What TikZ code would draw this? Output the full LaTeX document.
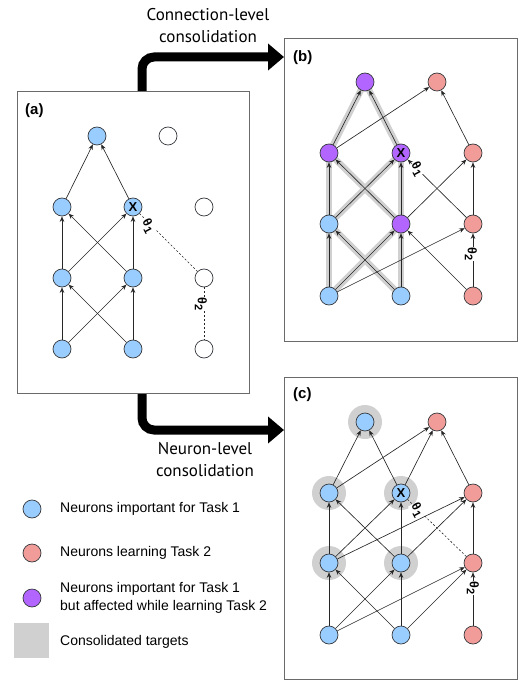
\documentclass[tikz,border=0pt]{standalone}
\usepackage{fontspec}
\setmainfont{Liberation Sans}
\newfontfamily\lblfont{PT Sans}
\usetikzlibrary{arrows.meta}
\pgfdeclarelayer{bg}
\pgfsetlayers{bg,main}
\definecolor{nblue}{HTML}{99CCFF}
\definecolor{nred}{HTML}{F19C99}
\definecolor{npurple}{HTML}{B266FF}
\definecolor{nstroke}{HTML}{36393D}
\definecolor{halo}{HTML}{D0D0D0}
\definecolor{panelline}{HTML}{6A6A6A}
\newcommand{\thsym}[1]{\bfseries θ\kern0.8pt\raisebox{-3pt}{\fontsize{11}{11}\selectfont #1}}
\tikzset{
 neuron/.style={circle, minimum size=18pt, inner sep=0pt, draw=nstroke, line width=0.7pt, font=\bfseries\fontsize{13}{13}\selectfont},
 bn/.style={neuron, fill=nblue},
 rn/.style={neuron, fill=nred},
 pn/.style={neuron, fill=npurple},
 openn/.style={neuron, fill=white},
 conn/.style={line width=0.65pt, draw=black!85, -{Stealth[length=5.5pt,width=4.5pt]}},
 dconn/.style={line width=0.6pt, draw=black!85, dash pattern=on 2pt off 2pt},
 hlline/.style={line width=6.5pt, draw=halo},
 haloc/.style={circle, fill=halo, minimum size=34pt, inner sep=0pt},
 panel/.style={draw=panelline, line width=1pt, anchor=north west, inner sep=0pt},
 bigarrow/.style={line width=9pt, rounded corners=12pt, -{Triangle[length=16pt,width=26pt]}},
 plabel/.style={font=\bfseries\fontsize{15}{18}\selectfont, anchor=west, inner sep=0pt},
 thlab/.style={font=\fontsize{12.5}{14}\selectfont, fill=white, inner sep=0.3pt},
 arrlab/.style={font=\lblfont\fontsize{17}{22}\selectfont, align=center, inner sep=0pt},
 lgtext/.style={font=\fontsize{14}{18}\selectfont, anchor=west, align=left, inner sep=0pt},
}
\begin{document}
\begin{tikzpicture}[x=1pt,y=-1pt]
\useasboundingbox (0,0) rectangle (530,692);
% panels
\node[panel, minimum width=232pt, minimum height=302pt] (pa) at (17,91) {};
\node[panel, minimum width=233pt, minimum height=303pt] (pb) at (284,38) {};
\node[panel, minimum width=233pt, minimum height=302pt] (pc) at (284,377) {};
\node[plabel] (la) at (25,111) {(a)};
\node[plabel] (lb) at (293,58) {(b)};
\node[plabel] (lc) at (293,395) {(c)};
% big arrows
\coordinate (topbend) at (142,57);
\coordinate (botbend) at (142,430);
\draw[bigarrow] (pa.north -| topbend) |- (pb.west |- topbend);
\draw[bigarrow] (pa.south -| botbend) |- (pc.west |- botbend);
\node[arrlab] (t1) at (208,26) {Connection-level\\consolidation};
\node[arrlab] (t2) at (205,460) {Neuron-level\\consolidation};
% ---------- panel (a)
\node[bn] (aA0) at (62,349) {};
\node[bn] (aB0) at (133,349) {};
\node[bn] (aA1) at (62,278) {};
\node[bn] (aB1) at (133,278) {};
\node[bn] (aA2) at (62,207) {};
\node[bn] (aB2) at (133,207) {X};
\node[bn] (aT) at (97,136) {};
\node[openn] (aO0) at (168,136) {};
\node[openn] (aO1) at (204,207) {};
\node[openn] (aO2) at (204,278) {};
\node[openn] (aO3) at (204,349) {};
\foreach \s/\t in {aA0/aA1,aA0/aB1,aB0/aA1,aB0/aB1,aA1/aA2,aA1/aB2,aB1/aA2,aB1/aB2,aA2/aT,aB2/aT}
  \draw[conn] (\s) -- (\t);
\draw[dconn] (aB2) -- (aO2);
\draw[dconn] (aO2) -- (aO3);
\node[thlab, rotate=-62] (ath1) at (148,226) {\thsym{1}};
\node[thlab, rotate=-90] (ath2) at (201,304) {\thsym{2}};
% ---------- panel (b)
\node[bn] (bA0) at (329,296) {};
\node[bn] (bB0) at (401,296) {};
\node[rn] (bR0) at (473,296) {};
\node[bn] (bA1) at (329,224) {};
\node[pn] (bB1) at (401,224) {};
\node[rn] (bR1) at (473,224) {};
\node[pn] (bA2) at (329,153) {};
\node[pn] (bB2) at (401,153) {X};
\node[rn] (bR2) at (473,153) {};
\node[pn] (bT) at (365,82) {};
\node[rn] (bRT) at (437,82) {};
\begin{pgfonlayer}{bg}
\foreach \s/\t in {bA0/bA1,bA0/bB1,bB0/bA1,bB0/bB1,bA1/bA2,bA1/bB2,bB1/bA2,bB1/bB2,bA2/bT,bB2/bT}
  \draw[hlline] (\s.center) -- (\t.center);
\end{pgfonlayer}
\foreach \s/\t in {bA0/bA1,bA0/bB1,bB0/bA1,bB0/bB1,bA0/bR1,bR0/bB1,bR0/bR1,bA1/bA2,bA1/bB2,bB1/bA2,bB1/bB2,bB1/bR2,bR1/bB2,bR1/bR2,bA2/bT,bB2/bT,bA2/bRT,bR2/bRT}
  \draw[conn] (\s) -- (\t);
\node[thlab, rotate=-62] (bth1) at (417,169) {\thsym{1}};
\node[thlab, rotate=-90] (bth2) at (471,254) {\thsym{2}};
% ---------- panel (c)
\node[bn] (cA0) at (329,635) {};
\node[bn] (cB0) at (401,635) {};
\node[rn] (cR0) at (473,635) {};
\node[bn] (cA1) at (329,563) {};
\node[bn] (cB1) at (401,563) {};
\node[rn] (cR1) at (473,563) {};
\node[bn] (cA2) at (329,493) {};
\node[bn] (cB2) at (401,493) {X};
\node[rn] (cR2) at (473,493) {};
\node[bn] (cT) at (365,422) {};
\node[rn] (cRT) at (437,422) {};
\begin{pgfonlayer}{bg}
\foreach \n in {cT,cA2,cB2,cA1,cB1}
  \node[haloc] at (\n) {};
\end{pgfonlayer}
\foreach \s/\t in {cA0/cA1,cA0/cB1,cB0/cA1,cB0/cB1,cA0/cR1,cB0/cR1,cR0/cR1,cA1/cA2,cA1/cB2,cB1/cA2,cB1/cB2,cA1/cR2,cB1/cR2,cR1/cR2,cA2/cT,cB2/cT,cA2/cRT,cB2/cRT,cR2/cRT}
  \draw[conn] (\s) -- (\t);
\draw[dconn] (cR1) -- (cB2);
\node[thlab, rotate=-62] (cth1) at (417,510) {\thsym{1}};
\node[thlab, rotate=-90] (cth2) at (473,588) {\thsym{2}};
% ---------- legend
\node[bn] (lg1) at (32,509) {};
\node[lgtext] (lt1) at (60,509) {Neurons important for Task 1};
\node[rn] (lg2) at (32,553) {};
\node[lgtext] (lt2) at (60,553) {Neurons learning Task 2};
\node[pn] (lg3) at (32,598) {};
\node[lgtext] (lt3) at (60,598) {Neurons important for Task 1\\but affected while learning Task 2};
\node[fill=halo, minimum size=35pt, inner sep=0pt] (lg4) at (31.5,640.5) {};
\node[lgtext] (lt4) at (60,642) {Consolidated targets};
\end{tikzpicture}
\end{document}
